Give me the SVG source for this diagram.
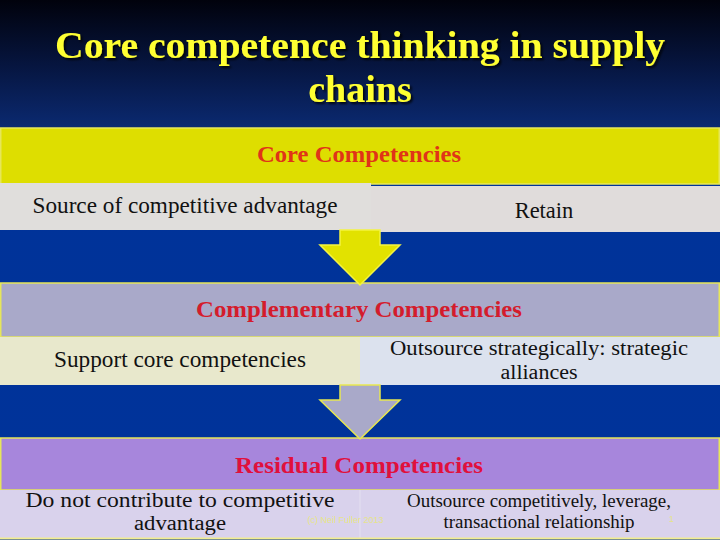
<svg xmlns="http://www.w3.org/2000/svg" width="720" height="540" viewBox="0 0 720 540">
<defs>
<linearGradient id="bg" x1="0" y1="0" x2="0" y2="1">
<stop offset="0" stop-color="#01020c"/>
<stop offset="0.12" stop-color="#06153f"/>
<stop offset="0.24" stop-color="#0b2a72"/>
<stop offset="0.3" stop-color="#003399"/>
<stop offset="1" stop-color="#00339a"/>
</linearGradient>
<filter id="sh" x="-5%" y="-20%" width="110%" height="140%">
<feDropShadow dx="2" dy="2" stdDeviation="1" flood-color="#000" flood-opacity="0.8"/>
</filter>
<style>
.title{font-family:"Liberation Serif","Times New Roman",serif;font-weight:bold;font-size:38px;fill:#ffff33;text-anchor:middle}
.head{font-family:"Liberation Serif","Times New Roman",serif;font-weight:bold;font-size:23px;text-anchor:middle}
.body{font-family:"Liberation Serif","Times New Roman",serif;font-size:22.5px;fill:#111;text-anchor:middle}
.small{font-size:19px}
.mid{font-size:20.5px}
.band{stroke:#e6e65a;stroke-width:1.5}
.cell{stroke:none}
.foot{font-family:"Liberation Sans",Arial,sans-serif;font-size:9px;fill:#e8e870;opacity:0.8}
</style>
</defs>
<rect x="0" y="0" width="720" height="540" fill="url(#bg)"/>

<g id="title" filter="url(#sh)">
<text class="title" x="360" y="58" textLength="610" lengthAdjust="spacingAndGlyphs">Core competence thinking in supply</text>
<text class="title" x="360" y="102">chains</text>
</g>

<g id="core">
<rect class="band" x="0.75" y="128" width="718.5" height="56" fill="#dede00"/>
<text class="head" x="359" y="162" fill="#e03418" textLength="204" lengthAdjust="spacingAndGlyphs">Core Competencies</text>
<rect class="cell" x="0" y="183" width="371" height="47" fill="#e0dedc"/>
<rect class="cell" x="371" y="186" width="349" height="46" fill="#e0dcdb"/>
<text class="body" x="185" y="213" textLength="305" lengthAdjust="spacingAndGlyphs">Source of competitive advantage</text>
<text class="body" x="544" y="218">Retain</text>
</g>

<g id="complementary">
<rect class="band" x="0.75" y="283" width="718.5" height="54" fill="#a9a9c9"/>
<text class="head" x="359" y="317" fill="#d41c2c" textLength="326" lengthAdjust="spacingAndGlyphs">Complementary Competencies</text>
<rect class="cell" x="0" y="337" width="360" height="48" fill="#e8e8cc"/>
<rect class="cell" x="360" y="337" width="360" height="48" fill="#dce2ee"/>
<text class="body" x="180" y="367" textLength="252" lengthAdjust="spacingAndGlyphs">Support core competencies</text>
<text class="body mid" x="539" y="355" textLength="298" lengthAdjust="spacingAndGlyphs">Outsource strategically: strategic</text>
<text class="body mid" x="539" y="379" textLength="77" lengthAdjust="spacingAndGlyphs">alliances</text>
</g>

<g id="residual">
<rect class="band" x="0.75" y="438" width="718.5" height="52" fill="#a786dc"/>
<text class="head" x="359" y="473" fill="#e0103c" textLength="248" lengthAdjust="spacingAndGlyphs">Residual Competencies</text>
<rect class="cell" x="0" y="490" width="720" height="48" fill="#d9d2ec"/>
<line x1="360" y1="490" x2="360" y2="538" stroke="#e4e0f0" stroke-width="1"/>
<line x1="0" y1="538.5" x2="720" y2="538.5" stroke="#f0ec90" stroke-width="2"/>
<text class="body mid" x="180" y="507" textLength="309" lengthAdjust="spacingAndGlyphs">Do not contribute to competitive</text>
<text class="body mid" x="180" y="530" textLength="92" lengthAdjust="spacingAndGlyphs">advantage</text>
<text class="body small" x="539" y="507" textLength="264" lengthAdjust="spacingAndGlyphs">Outsource competitively, leverage,</text>
<text class="body small" x="539" y="528" textLength="191" lengthAdjust="spacingAndGlyphs">transactional relationship</text>
<text class="foot" x="345" y="523" text-anchor="middle">(c) Neil Fuller 2013</text>
<text class="foot" x="671" y="522" text-anchor="middle">1</text>
</g>

<g id="connectors">
<polygon points="340,230 380,230 380,245 400,245 360,285 320,245 340,245" fill="#e2e200" stroke="#f4f440" stroke-width="1.5" stroke-linejoin="miter"/>
<polygon points="340,385 380,385 380,400 400,400 360,439 320,400 340,400" fill="#a9a9c9" stroke="#e8e850" stroke-width="1.5"/>
</g>
</svg>
